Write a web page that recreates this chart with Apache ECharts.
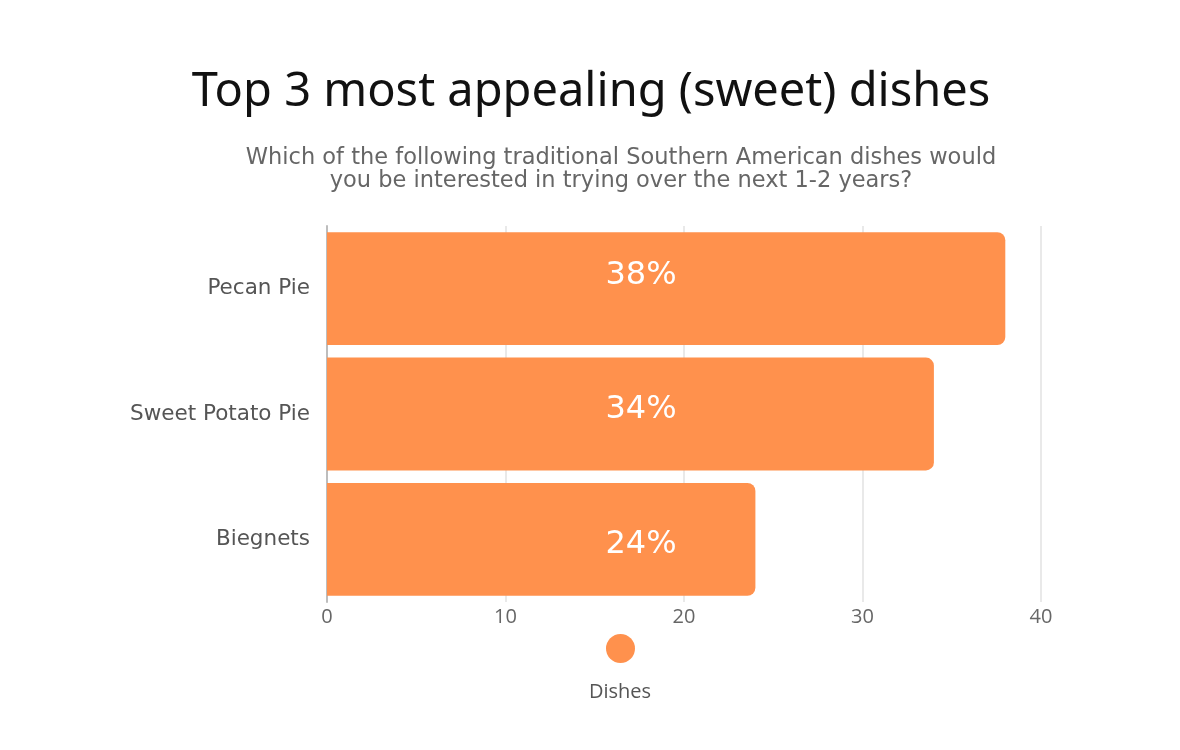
<!DOCTYPE html>
<html>
<head>
<meta charset="utf-8">
<script src="https://cdn.jsdelivr.net/npm/echarts@6/dist/echarts.min.js"></script>
<style>
  html, body { margin: 0; padding: 0; background: #fff; }
  #main { width: 1180px; height: 750px; }
</style>
</head>
<body>
<div id="main"></div>
<script>
// top 3 sweet dishes
var chart = echarts.init(document.getElementById("main"));

var dishes = ['Pecan Pie', 'Sweet Potato Pie', 'Biegnets'];
var shares = [38, 34, 24];
var seriesName = 'Dishes';

// label nudges, the source placed the value labels a bit unevenly
var labelNudge = [-13, -4, 5];

var barData = shares.map(function (v, i) {
    return {
        value: v,
        label: { offset: [0, labelNudge[i]] },
    };
});

var option = {
    backgroundColor: '#ffffff',
    title: [
        {
            text: 'Top 3 most appealing (sweet) dishes',
            left: 586,
            textAlign: 'center',
            top: 64,
            textStyle: {
                color: '#111',
                fontSize: 47,
                fontWeight: 'normal',
                fontFamily: 'Noto Sans',
            },
        },
        {
            text: 'Which of the following traditional Southern American dishes would\nyou be interested in trying over the next 1-2 years?',
            left: 616,
            textAlign: 'center',
            top: 142,
            textStyle: {
                color: '#666',
                fontSize: 22.5,
                fontWeight: 'normal',
                fontFamily: 'DejaVu Sans',
                lineHeight: 23,
                align: 'center',
            },
        },
        {
            text: seriesName,
            left: 615,
            textAlign: 'center',
            top: 677,
            textStyle: {
                color: '#555',
                fontSize: 20,
                fontWeight: 'normal',
                fontFamily: 'Open Sans',
            },
        },
    ],
    legend: {
        data: [seriesName],
        left: 601,
        top: 629,
        icon: 'circle',
        itemWidth: 29,
        itemHeight: 29,
        formatter: function () { return ''; },
        selectedMode: false,
    },
    grid: {
        left: 327,
        right: 139,
        top: 226,
        bottom: 148,
    },
    xAxis: {
        type: 'value',
        min: 0,
        max: 40,
        interval: 10,
        axisLine: { show: false },
        axisTick: { show: false },
        axisLabel: {
            color: '#666',
            fontSize: 20,
            fontFamily: 'Open Sans',
            margin: 5,
        },
        splitLine: {
            lineStyle: { color: '#e2e2e2', width: 1.5 },
        },
    },
    yAxis: {
        type: 'category',
        inverse: true,
        data: dishes,
        axisLine: {
            show: true,
            lineStyle: { color: '#bdbdbd', width: 2 },
        },
        axisTick: { show: false },
        axisLabel: {
            color: '#555',
            fontSize: 21.5,
            fontFamily: 'DejaVu Sans',
            margin: 17,
        },
    },
    series: [
        {
            name: seriesName,
            type: 'bar',
            data: barData,
            barCategoryGap: '10%',
            itemStyle: {
                color: '#ff914d',
                borderRadius: [0, 8, 8, 0],
            },
            label: {
                show: true,
                position: [314, '50%'],
                align: 'center',
                verticalAlign: 'middle',
                color: '#fff',
                fontSize: 32,
                fontFamily: 'DejaVu Sans',
                formatter: '{c}%',
            },
        },
    ],
};

chart.setOption(option);
window.addEventListener("resize", function () {
    chart.resize();
});
</script>
</body>
</html>
